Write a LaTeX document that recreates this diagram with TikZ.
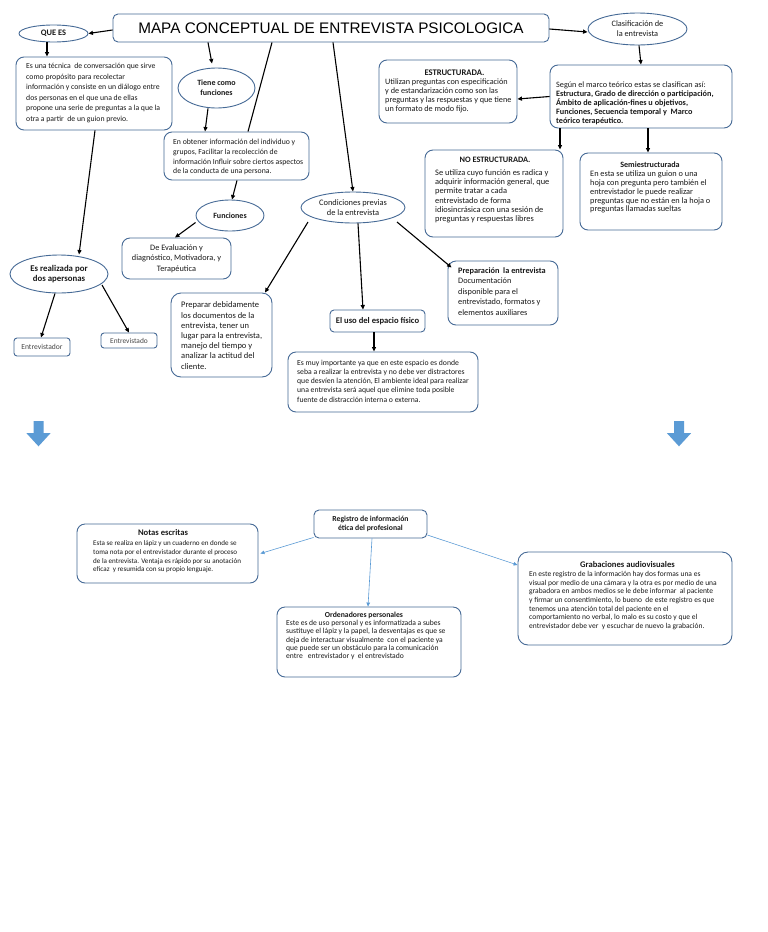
\documentclass[tikz,border=0pt]{standalone}
\usepackage{fontspec}
\setmainfont{Carlito}
\newfontfamily\titlefont{Liberation Sans}
\usetikzlibrary{shapes.geometric,arrows.meta,calc}
\definecolor{bcol}{RGB}{70,106,150}
\definecolor{bluec}{RGB}{91,155,213}
\definecolor{tcol}{RGB}{25,25,25}
\definecolor{gcol}{RGB}{70,70,70}
\newcommand\fsz[2]{\fontsize{#1}{#2}\selectfont}
\begin{document}
\begin{tikzpicture}[x=1pt,y=-1pt,
  box/.style={draw=bcol, line width=0.9pt, rounded corners=8pt, fill=white, inner sep=0pt},
  ell/.style={draw=bcol, line width=0.9pt, ellipse, fill=white, inner sep=0pt, align=center, text=tcol},
  arr/.style={-{Triangle[length=4.5pt,width=4pt]}, line width=1.1pt, black},
  plain/.style={line width=1.1pt, black},
  barr/.style={-{Triangle[length=4pt,width=3.5pt]}, line width=0.6pt, bluec},
  txt/.style={anchor=west, align=left, inner sep=0pt, text=tcol},
  ctxt/.style={anchor=center, align=center, inner sep=0pt, text=tcol},
]
\useasboundingbox (0,0) rectangle (768,932);
\fill[white] (0,0) rectangle (768,932);

% ---------- title ----------
\node[box, rounded corners=5pt, minimum width=436pt, minimum height=28pt, text=black] (title) at (331,28)
  {\titlefont\fsz{15.3}{18}MAPA CONCEPTUAL DE ENTREVISTA PSICOLOGICA};

% ---------- left branch ----------
\node[ell, minimum width=69pt, minimum height=17pt, font=\fsz{8.4}{9}\bfseries] (quees) at (53.5,33.5) {QUE ES};

\node[box, minimum width=156pt, minimum height=73pt] (tecnica) at (94,93.5) {};
\node[txt, font=\fsz{7.75}{10.6}] at (26,93) {Es una técnica~ de conversación que sirve\\
como propósito para recolectar\\
información y consiste en un diálogo entre\\
dos personas en el que una de ellas\\
propone una serie de preguntas a la que la\\
otra a partir~ de un guion previo.};

\node[ell, minimum width=77pt, minimum height=40pt, font=\fsz{8}{10}\bfseries] (tiene) at (216.5,88) {Tiene como\\funciones};

\node[box, minimum width=145pt, minimum height=48pt] (info) at (236.5,156) {};
\node[txt, font=\fsz{7.75}{9.6}] at (173,157.3) {En obtener información del individuo y\\
grupos, Facilitar la recolección de\\
información Influir sobre ciertos aspectos\\
de la conducta de una persona.};

\node[ell, minimum width=68pt, minimum height=31pt, font=\fsz{8}{10}\bfseries] (funciones) at (230,215.5) {Funciones};

\node[box, minimum width=109pt, minimum height=41pt] (deval) at (176.5,258.5) {};
\node[ctxt, font=\fsz{8.3}{10.5}] at (176.5,258.5) {De Evaluación y\\diagnóstico, Motivadora, y\\Terapéutica};

\node[ell, minimum width=98pt, minimum height=38pt, font=\fsz{8.8}{10.5}\bfseries] (realiz) at (59,274) {Es realizada por\\dos apersonas};

\node[box, rounded corners=3pt, minimum width=56pt, minimum height=18pt, text=gcol, font=\fsz{7.6}{8}] (entrevistador) at (42,347) {Entrevistador};
\node[box, rounded corners=3pt, minimum width=56pt, minimum height=15pt, text=gcol, font=\fsz{7.4}{8}] (entrevistado) at (129,340.5) {Entrevistado};

% ---------- middle branch ----------
\node[ell, minimum width=104pt, minimum height=31pt, font=\fsz{8.4}{9.8}] (condic) at (353,207.5) {Condiciones previas\\de la entrevista};

\node[box, rounded corners=10pt, minimum width=101pt, minimum height=84pt] (preparar) at (221.5,335) {};
\node[txt, font=\fsz{8.5}{10.2}] at (181,335.5) {Preparar debidamente\\
los documentos de la\\
entrevista, tener un\\
lugar para la entrevista,\\
manejo del tiempo y\\
analizar la actitud del\\
cliente.};

\node[box, rounded corners=4pt, minimum width=95pt, minimum height=22pt, text=tcol, font=\fsz{8.6}{9}\bfseries] (eluso) at (377.5,321) {El uso del espacio físico};

\node[box, minimum width=190pt, minimum height=60pt] (esmuy) at (383,382) {};
\node[txt, font=\fsz{7.7}{9.2}] at (297,381) {Es muy importante ya que en este espacio es donde\\
seba a realizar la entrevista y no debe ver distractores\\
que desvíen la atención, El ambiente ideal para realizar\\
una entrevista será aquel que elimine toda posible\\
fuente de distracción interna o externa.};

\node[box, minimum width=110pt, minimum height=64pt] (prepa) at (503,293) {};
\node[txt, font=\fsz{8.3}{10.4}] at (458,291.5) {\textbf{Preparación~ la entrevista}\\
Documentación\\
disponible para el\\
entrevistado, formatos y\\
elementos auxiliares};

% ---------- right branch ----------
\node[ell, minimum width=99pt, minimum height=32pt, font=\fsz{8.3}{10}] (clasif) at (637.5,29) {Clasificación de\\la entrevista};

\node[box, minimum width=182pt, minimum height=63pt] (segun) at (641,96.5) {};
\node[txt, font=\fsz{8.2}{9.2}] at (556,103.3) {Según el marco teórico estas se clasifican así:\\
\textbf{Estructura, Grado de dirección o participación,}\\
\textbf{Ámbito de aplicación-fines u objetivos,}\\
\textbf{Funciones, Secuencia temporal y~ Marco}\\
\textbf{teórico terapéutico.}};

\node[box, minimum width=138pt, minimum height=63pt] (estruct) at (448,91.5) {};
\node[ctxt, font=\fsz{8.6}{9}\bfseries] at (454.5,72.5) {ESTRUCTURADA.};
\node[txt, font=\fsz{8.2}{9}] at (385,96) {Utilizan preguntas con especificación\\
y de estandarización como son las\\
preguntas y las respuestas y que tiene\\
un formato de modo fijo.};

\node[box, minimum width=138pt, minimum height=87pt] (noestr) at (494,193.5) {};
\node[ctxt, font=\fsz{8.3}{9}\bfseries] at (495,160) {NO ESTRUCTURADA.};
\node[txt, font=\fsz{8.4}{9.2}] at (435,196.3) {Se utiliza cuyo función es radica y\\
adquirir información general, que\\
permite tratar a cada\\
entrevistado de forma\\
idiosincrásica con una sesión de\\
preguntas y respuestas libres};

\node[box, minimum width=142pt, minimum height=77pt] (semi) at (651,191.5) {};
\node[ctxt, font=\fsz{8.1}{9}\bfseries] at (650,165) {Semiestructurada};
\node[txt, font=\fsz{8.3}{8.9}] at (590,192) {En esta se utiliza un guion o una\\
hoja con pregunta pero también el\\
entrevistador le puede realizar\\
preguntas que no están en la hoja o\\
preguntas llamadas sueltas};

% ---------- block arrows ----------
\foreach \cx in {38.5,679}{
  \fill[bluec] (\cx-5,421) -- (\cx+5,421) -- (\cx+5,433) -- (\cx+12.2,433) -- (\cx,446.3) -- (\cx-12.2,433) -- (\cx-5,433) -- cycle;
}

% ---------- lower section ----------
\node[box, rounded corners=5pt, minimum width=113pt, minimum height=28pt, font=\fsz{7.7}{9.2}\bfseries, align=center, text=tcol] (registro) at (370.5,524) {Registro de información\\ética del profesional};

\node[box, minimum width=181pt, minimum height=59pt] (notas) at (167.5,553.5) {};
\node[ctxt, font=\fsz{8.6}{9}\bfseries] at (163,533) {Notas escritas};
\node[txt, font=\fsz{7.1}{8.9}] at (93,556.7) {Esta se realiza en lápiz y un cuaderno en donde se\\
toma nota por el entrevistador durante el proceso\\
de la entrevista. Ventaja es rápido por su anotación\\
eficaz~ y resumida con su propio lenguaje.};

\node[box, minimum width=184pt, minimum height=70pt] (orden) at (369,642) {};
\node[ctxt, font=\fsz{7.7}{8}\bfseries] at (364,615) {Ordenadores personales};
\node[txt, font=\fsz{7.6}{8.1}] at (286,640) {Este es de uso personal y es informatizada a subes\\
sustituye el lápiz y la papel, la desventajas es que se\\
deja de interactuar visualmente~ con el paciente ya\\
que puede ser un obstáculo para la comunicación\\
entre~~ entrevistador y~ el entrevistado};

\node[box, rounded corners=10pt, minimum width=214pt, minimum height=93pt] (grab) at (625,598.5) {};
\node[ctxt, font=\fsz{8.6}{9}\bfseries] at (627.5,564.3) {Grabaciones audiovisuales};
\node[txt, font=\fsz{7.5}{8.6}] at (529,600.5) {En este registro de la información hay dos formas una es\\
visual por medio de una cámara y la otra es por medio de una\\
grabadora en ambos medios se le debe informar~ al paciente\\
y firmar un consentimiento, lo bueno~ de este registro es que\\
tenemos una atención total del paciente en el\\
comportamiento no verbal, lo malo es su costo y que el\\
entrevistador debe ver~ y escuchar de nuevo la grabación.};

% ---------- connectors ----------
\draw[arr] ([yshift=-2pt]title.west) -- (quees.east);
\draw[arr] ([xshift=-6.5pt]quees.south) -- ([xshift=-47pt]tecnica.north);
\draw[arr] ([xshift=-123pt]title.south) -- ([xshift=-4.5pt,yshift=4pt]tiene.north);
\draw[plain] ([xshift=-59pt]title.south) -- ([xshift=11.5pt]info.north);
\draw[arr] ([xshift=-8.5pt]tiene.south) -- ([xshift=-31.5pt]info.north);
\draw[arr] ([xshift=0.5pt]info.south) -- ([xshift=2pt]funciones.north);
\draw[arr] ([yshift=-7pt]funciones.west) -- ([xshift=-1.5pt]deval.north);
\draw[arr] ([xshift=2pt]title.south) -- (condic.north);
\draw[arr] ([xshift=1pt]tecnica.south) -- ([xshift=20pt]realiz.north);
\draw[arr] ([xshift=-4pt]realiz.south) -- ([xshift=-1pt]entrevistador.north);
\draw[arr] ([xshift=43pt,yshift=-11pt]realiz.center) -- (entrevistado.north);
\draw[arr] ([xshift=-45pt,yshift=-14.5pt]condic.center) -- ([xshift=43.5pt]preparar.north);
\draw[arr] ([xshift=5pt]condic.south) -- ([xshift=-14.5pt]eluso.north);
\draw[arr] ([xshift=-3.5pt]eluso.south) -- ([xshift=-9pt]esmuy.north);
\draw[arr] ([xshift=44pt,yshift=-14.5pt]condic.center) -- ([xshift=4pt,yshift=-7pt]prepa.north west);
\draw[arr] ([yshift=-1pt]title.east) -- ([yshift=-3pt]clasif.west);
\draw[arr] ([xshift=1.5pt]clasif.south) -- (segun.north);
\draw[arr] (segun.west) -- ([yshift=-7.5pt]estruct.east);
\draw[arr] ([xshift=-81pt]segun.south) -- ([xshift=66pt]noestr.north);
\draw[arr] ([xshift=7pt]segun.south) -- ([xshift=-3pt]semi.north);

\draw[barr] ([yshift=1pt]registro.south west) -- ([xshift=2pt]notas.east);
\draw[barr] ([xshift=1.5pt]registro.south) -- ([xshift=-1pt]orden.north);
\draw[barr] ([yshift=-11pt]registro.east) -- ([yshift=33.5pt]grab.west);
\end{tikzpicture}
\end{document}
